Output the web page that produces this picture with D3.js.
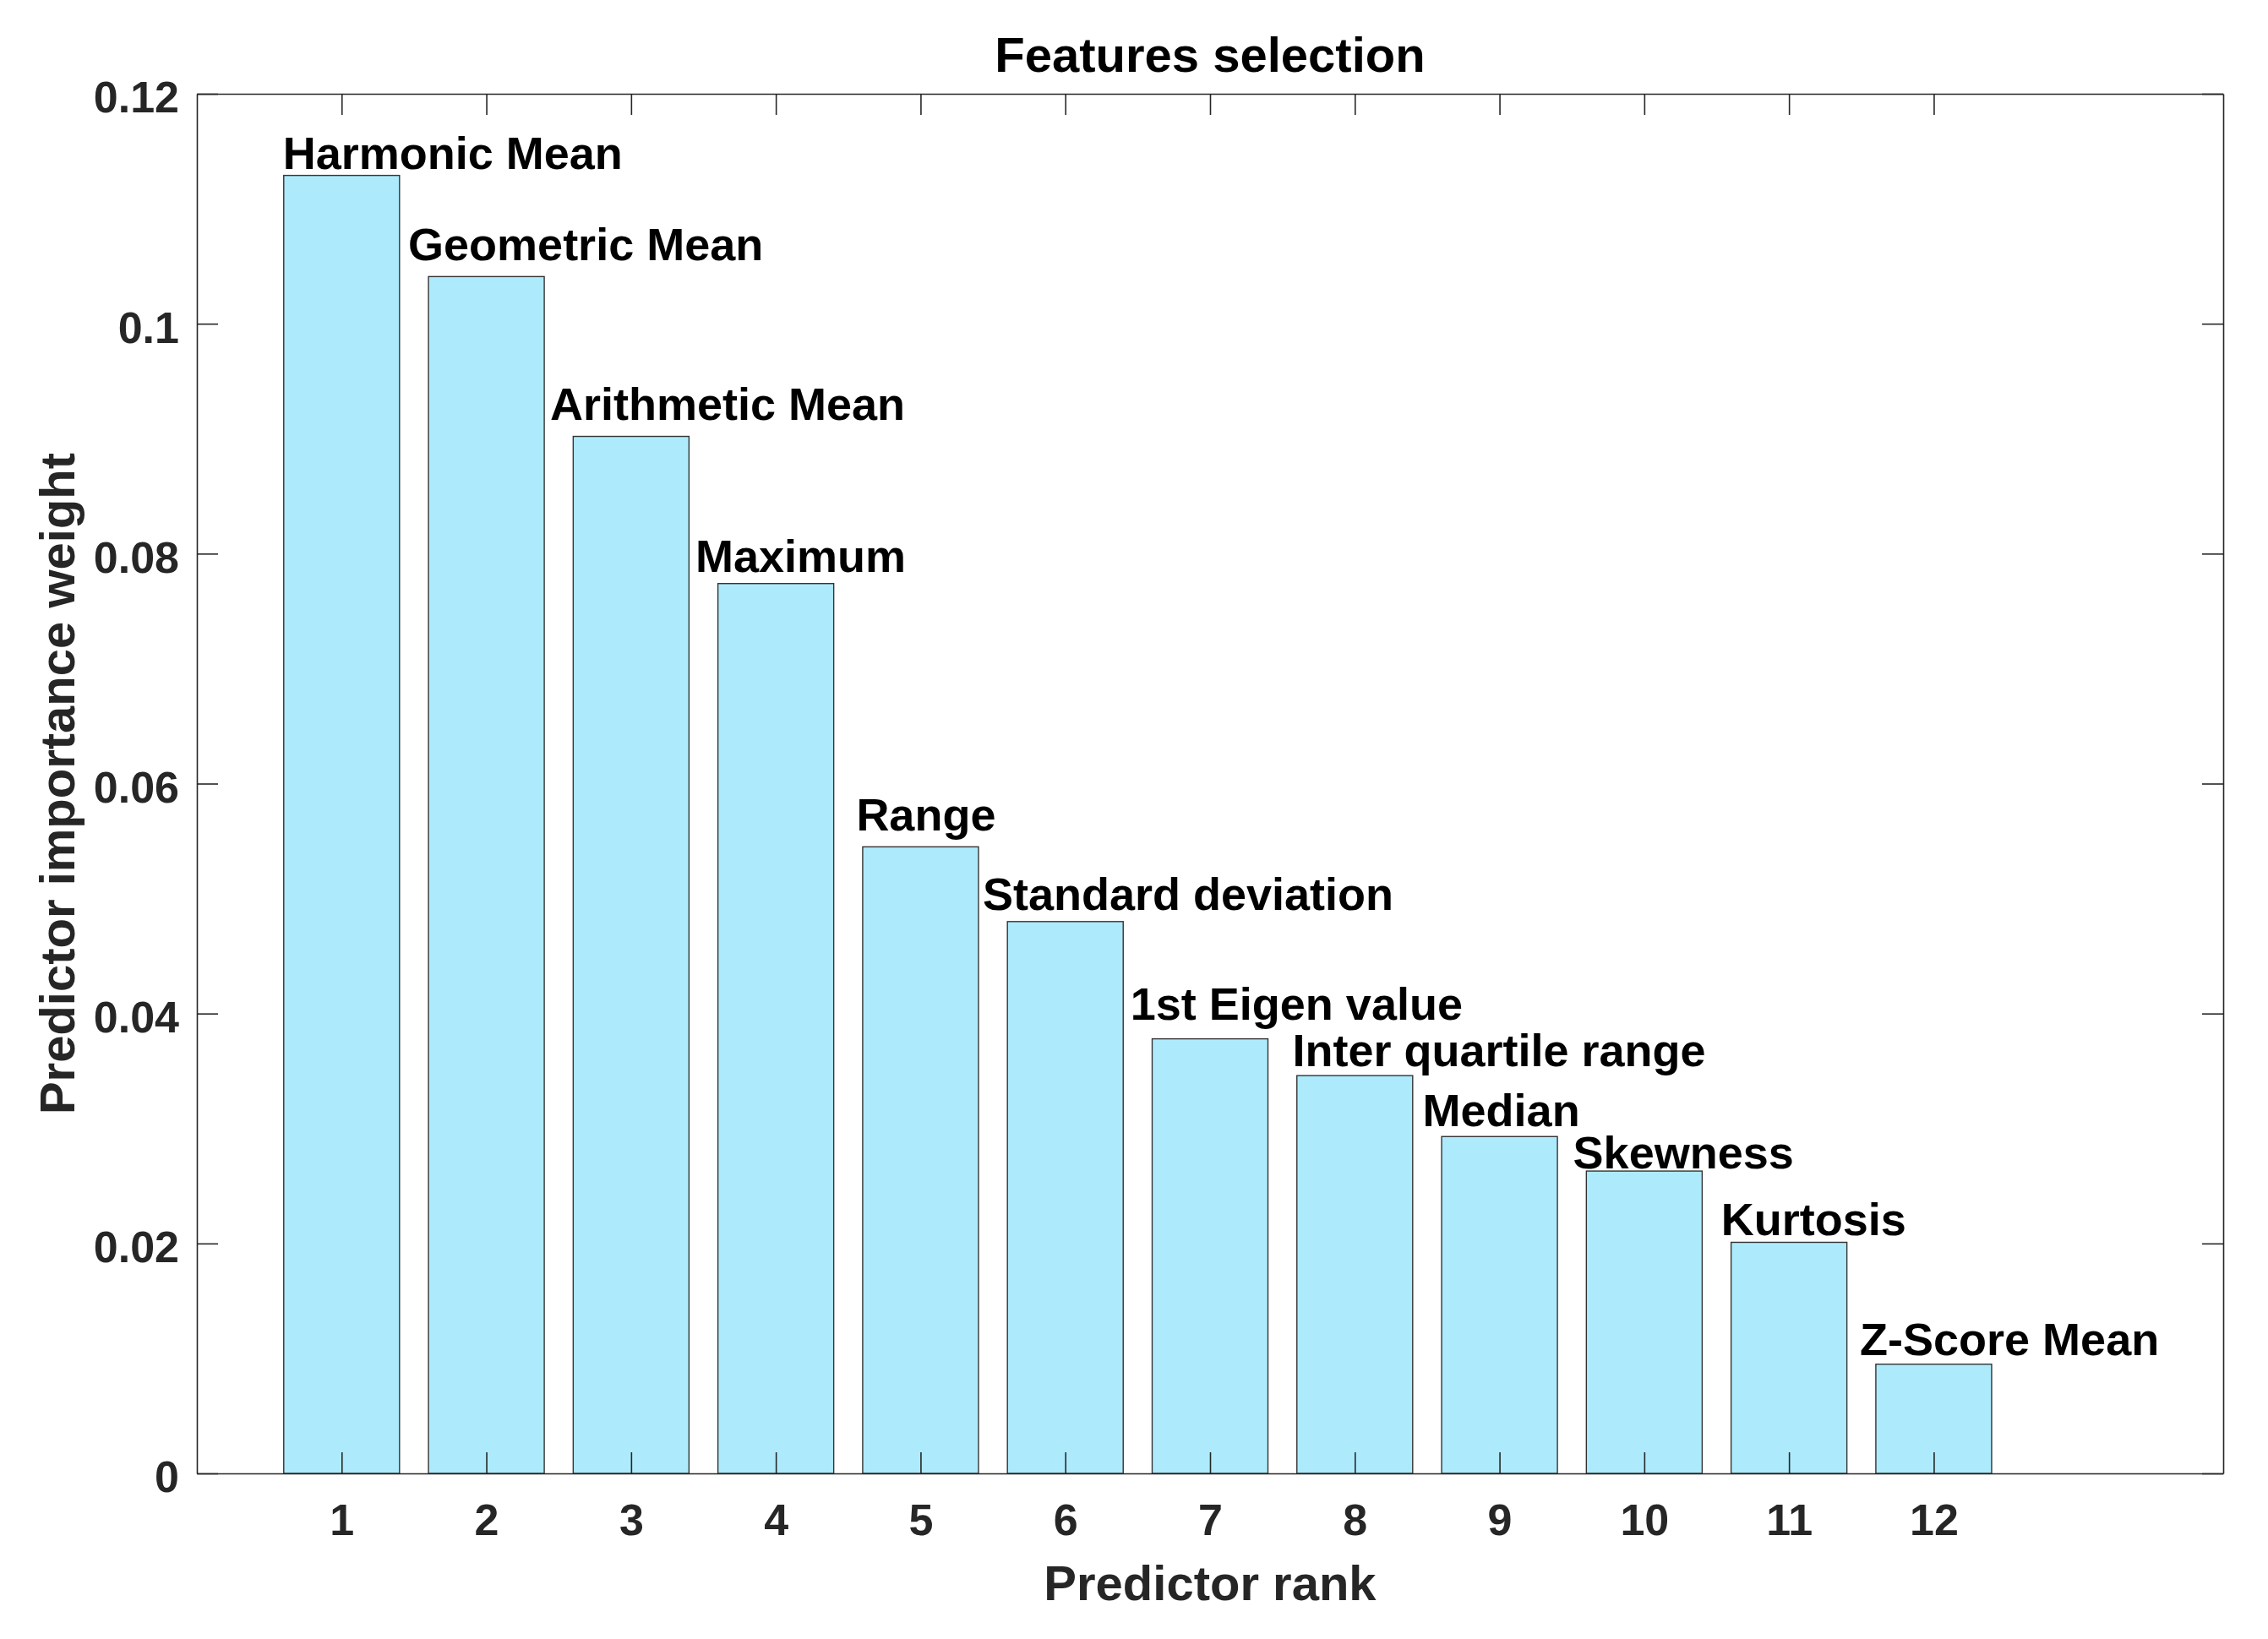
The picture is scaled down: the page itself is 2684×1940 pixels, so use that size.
<!DOCTYPE html>
<html>
<head>
<meta charset="utf-8">
<script src="https://cdn.jsdelivr.net/npm/d3@7"></script>
<style>
  html, body { margin: 0; padding: 0; background: #fff; }
  svg { display: block; font-family: "Liberation Sans", Arial, Helvetica, sans-serif; }
</style>
</head>
<body>
<svg id="chart" width="2684" height="1940"></svg>
<script>
// ---- data ----
const ranks = [1, 2, 3, 4, 5, 6, 7, 8, 9, 10, 11, 12];
const weights = [0.1129, 0.1041, 0.0902, 0.0774, 0.0545, 0.0480, 0.0378, 0.0346, 0.0293, 0.0263, 0.0201, 0.0095];
const featureNames = ["Harmonic Mean", "Geometric Mean", "Arithmetic Mean", "Maximum", "Range",
  "Standard deviation", "1st Eigen value", "Inter quartile range", "Median", "Skewness", "Kurtosis", "Z-Score Mean"];
// text anchor positions (data units, as placed in the original figure)
const labelX = [0.594, 1.46, 2.44, 3.444, 4.556, 5.429, 6.45, 7.569, 8.469, 9.508, 10.531, 11.49];
const labelY = [0.11346, 0.1055, 0.09161, 0.07843, 0.0559, 0.04904, 0.03948, 0.03544, 0.03022, 0.02651, 0.02074, 0.01029];
const yTicks = [0, 0.02, 0.04, 0.06, 0.08, 0.1, 0.12];
const yTickLabels = ["0", "0.02", "0.04", "0.06", "0.08", "0.1", "0.12"];
const xTicks = ranks;

const titleText = "Features selection";
const xLabelText = "Predictor rank";
const yLabelText = "Predictor importance weight";

// ---- layout ----
const L = 233, R = 2631, T = 111, B = 1744;
const tickLen = 25;
const axisColor = "#262626";

const svg = d3.select("#chart");
svg.append("rect").attr("width", 2684).attr("height", 1940).attr("fill", "#fff");

const x = d3.scaleLinear().domain([0, 14]).range([L, R]);
const y = d3.scaleLinear().domain([0, 0.12]).range([B, T]);
const barW = 0.8;

// bars
svg.append("g").selectAll("rect").data(ranks).join("rect")
  .attr("x", (d) => x(d - barW / 2))
  .attr("width", (d) => x(d + barW / 2) - x(d - barW / 2))
  .attr("y", (d, i) => y(weights[i]))
  .attr("height", (d, i) => y(0) - y(weights[i]))
  .attr("fill", "rgb(173,235,252)")
  .attr("stroke", "#333333")
  .attr("stroke-width", 1.4);

// axes
function styleAxis(g) {
  g.select(".domain").attr("stroke", axisColor).attr("stroke-width", 1.6);
  g.selectAll(".tick line").attr("stroke", axisColor).attr("stroke-width", 1.6);
  g.selectAll(".tick text").attr("fill", axisColor).attr("font-size", 52).attr("font-weight", "bold")
    .attr("font-family", '"Liberation Sans", Arial, sans-serif');
}

const xAxisB = d3.axisBottom(x).tickValues(xTicks).tickFormat(d3.format("d"))
  .tickSizeInner(-tickLen).tickSizeOuter(0).tickPadding(36);
svg.append("g").attr("transform", `translate(0,${B})`).call(xAxisB).call(styleAxis);

const xAxisT = d3.axisTop(x).tickValues(xTicks).tickFormat("")
  .tickSizeInner(-tickLen).tickSizeOuter(0);
svg.append("g").attr("transform", `translate(0,${T})`).call(xAxisT).call(styleAxis);

const yAxisL = d3.axisLeft(y).tickValues(yTicks).tickFormat((d, i) => yTickLabels[i])
  .tickSizeInner(-tickLen).tickSizeOuter(0).tickPadding(21);
const gyl = svg.append("g").attr("transform", `translate(${L},0)`).call(yAxisL).call(styleAxis);
gyl.selectAll(".tick text").attr("dy", "0.42em");

const yAxisR = d3.axisRight(y).tickValues(yTicks).tickFormat("")
  .tickSizeInner(-tickLen).tickSizeOuter(0);
svg.append("g").attr("transform", `translate(${R},0)`).call(yAxisR).call(styleAxis);

// bar labels
svg.append("g").selectAll("text").data(featureNames).join("text")
  .attr("x", (d, i) => x(labelX[i]))
  .attr("y", (d, i) => y(labelY[i]))
  .attr("font-size", 54).attr("font-weight", "bold").attr("fill", "#000")
  .text((d) => d);

// title
svg.append("text").attr("x", (L + R) / 2).attr("y", 85).attr("text-anchor", "middle")
  .attr("font-size", 58).attr("font-weight", "bold").attr("fill", "#000").text(titleText);

// x label
svg.append("text").attr("x", (L + R) / 2).attr("y", 1894).attr("text-anchor", "middle")
  .attr("font-size", 58).attr("font-weight", "bold").attr("fill", axisColor).text(xLabelText);

// y label
svg.append("text").attr("transform", `translate(88,${(T + B) / 2}) rotate(-90)`)
  .attr("text-anchor", "middle")
  .attr("font-size", 58).attr("font-weight", "bold").attr("fill", axisColor).text(yLabelText);
</script>
</body>
</html>
